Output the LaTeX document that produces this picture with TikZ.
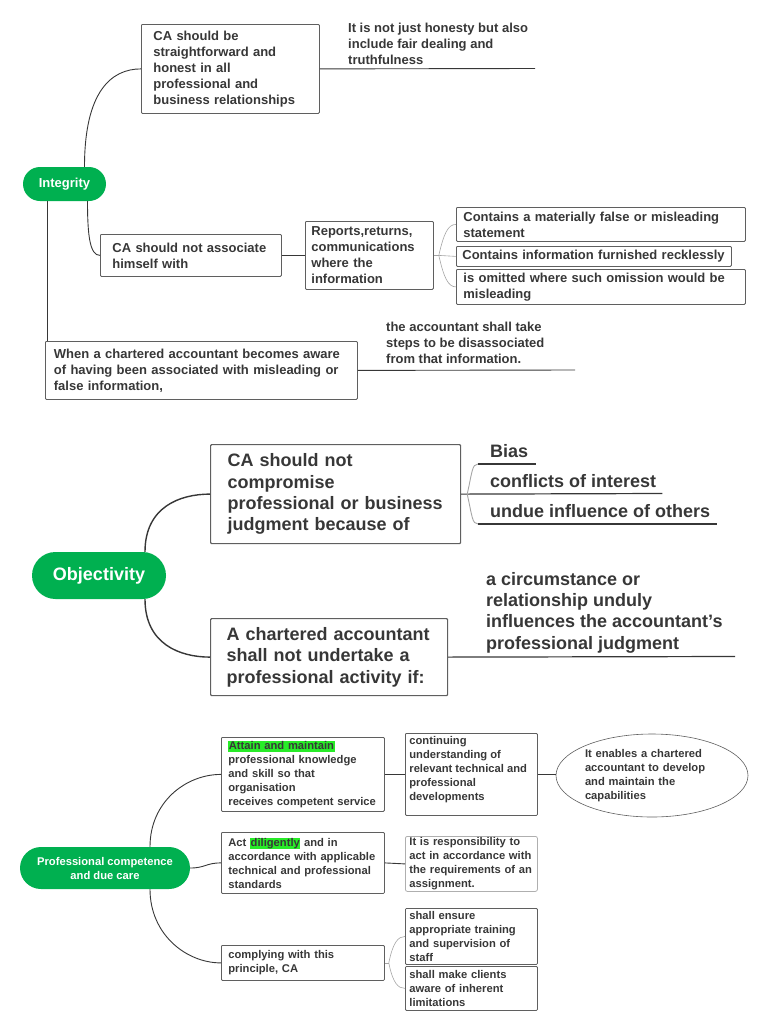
\documentclass[tikz,border=0pt]{standalone}
\usepackage{fontspec}
\setmainfont{Liberation Sans}
\usetikzlibrary{shapes.geometric}

\definecolor{pillgreen}{RGB}{0,176,80}
\definecolor{markgreen}{RGB}{40,235,40}
\definecolor{inkgray}{RGB}{55,55,55}
\definecolor{boxgray}{RGB}{95,95,95}
\definecolor{branchgray}{RGB}{165,165,165}

\newcommand{\intfont}{\fontsize{13}{16}\selectfont\bfseries}
\newcommand{\objfont}{\fontsize{18}{21.3}\selectfont\bfseries}
\newcommand{\pcfont}{\fontsize{11.2}{14}\selectfont\bfseries}
\newcommand{\markgreen}[1]{{\setlength{\fboxsep}{0.5pt}\colorbox{markgreen}{\rule[-2pt]{0pt}{9.5pt}#1}}}

\begin{document}
\begin{tikzpicture}[x=1pt,y=-1pt,
  box/.style={draw=boxgray,line width=0.8pt,rounded corners=1pt,anchor=north west,align=left,inner ysep=0pt,text=inkgray},
  pill/.style={fill=pillgreen,text=white,align=center,inner sep=0pt},
  line/.style={draw=inkgray,line width=0.9pt},
  branch/.style={draw=branchgray,line width=0.6pt},
  note/.style={anchor=north west,align=left,inner sep=0pt,text=inkgray}]
\useasboundingbox (0,0) rectangle (768,1023);

% Integrity
\node[pill,minimum width=83pt,minimum height=34pt,rounded corners=17pt,font=\intfont] (integ) at (64.5,184) {Integrity};
\node[box,text width=154pt,inner xsep=12pt,minimum height=89pt,font=\intfont] (honest) at (141,24) {CA should be\\straightforward and\\honest in all\\professional and\\business relationships};
\node[note,font=\intfont] (fair) at (348,23) {It is not just honesty but also\\include fair dealing and\\truthfulness};
\coordinate (fairend) at (535,68.5);
\node[box,text width=157pt,inner xsep=12pt,minimum height=42pt,font=\intfont] (assoc) at (100,234) {CA should not associate\\himself with};
\node[box,text width=116pt,inner xsep=6pt,minimum height=68pt,font=\intfont] (reports) at (305,221) {Reports,returns,\\communications\\where the\\information};
\node[box,text width=275pt,inner xsep=7pt,minimum height=34pt,font=\intfont] (false) at (456,207) {Contains a materially false or misleading\\statement};
\node[box,text width=263pt,inner xsep=6pt,minimum height=20pt,font=\intfont] (reckless) at (456,246) {Contains information furnished recklessly};
\node[box,text width=275pt,inner xsep=7pt,minimum height=35pt,font=\intfont] (omitted) at (456,269) {is omitted where such omission would be\\misleading};
\node[box,text width=295pt,inner xsep=8.5pt,minimum height=58pt,font=\intfont] (aware) at (45,341) {When a chartered accountant becomes aware\\of having been associated with misleading or\\false information,};
\node[note,font=\intfont] (disassoc) at (386,322) {the accountant shall take\\steps to be disassociated\\from that information.};
\coordinate (disend) at (575,370);

\draw[line] ([xshift=20pt]integ.north) .. controls +(0,-75) and +(-30,0) .. (honest.west);
\draw[line] (honest.east) -- (fairend);
\draw[line] ([xshift=23pt]integ.south) .. controls +(0,35) and +(-10,0) .. (assoc.west);
\draw[line] (assoc.east) -- (reports.west);
\draw[branch] (reports.east) -- ++(5,0) coordinate (rsplit);
\draw[branch] (rsplit) .. controls +(5,-22) and +(-8,0) .. (false.west);
\draw[branch] (rsplit) -- (reckless.west);
\draw[branch] (rsplit) .. controls +(5,22) and +(-8,0) .. (omitted.west);
\draw[line] ([xshift=-17.5pt]integ.south) -- ([xshift=-17.5pt]integ.south |- aware.north);
\draw[line] (aware.east) -- (disend);

% Objectivity
\node[pill,minimum width=134pt,minimum height=47pt,rounded corners=23.5pt,font=\objfont] (objec) at (99,575.5) {Objectivity};
\node[box,line width=1.2pt,text width=216pt,inner xsep=17pt,minimum height=99pt,font=\objfont] (compr) at (210,444) {CA should not\\compromise\\professional or business\\judgment because of};
\node[box,line width=1.2pt,text width=205pt,inner xsep=16pt,minimum height=77pt,font=\objfont] (underta) at (210,618) {A chartered accountant\\shall not undertake a\\professional activity if:};
\node[note,anchor=south west,inner ysep=6pt,text depth=0pt,font=\objfont] (bias) at (490,464) {Bias};
\node[note,anchor=south west,inner ysep=6pt,text depth=0pt,font=\objfont] (conflicts) at (490,493.5) {conflicts of interest};
\node[note,anchor=south west,inner ysep=6pt,text depth=0pt,font=\objfont] (undue) at (490,524) {undue influence of others};
\node[note,font=\objfont] (circum) at (486,572) {a circumstance or\\relationship unduly\\influences the accountant's\\professional judgment};
\coordinate (circend) at (735,656.5);

\draw[line,line width=1.4pt] ([xshift=46pt]objec.north) .. controls +(0,-45) and +(-30,0) .. (compr.west);
\draw[line,line width=1.4pt] ([xshift=46pt]objec.south) .. controls +(0,45) and +(-30,0) .. (underta.west);
\draw[line,line width=1.2pt] (compr.east) -- ++(6,0) coordinate (csplit) -- ([xshift=6pt]conflicts.south east);
\draw[branch,line width=0.9pt] (csplit) .. controls +(5,-22) and +(-6,0) .. ([xshift=-12pt]bias.south west);
\draw[branch,line width=0.9pt] (csplit) .. controls +(5,22) and +(-6,0) .. ([xshift=-12pt]undue.south west);
\draw[line,line width=1.2pt] ([xshift=-12pt]bias.south west) -- ([xshift=8pt]bias.south east);
\draw[line,line width=1.2pt] ([xshift=-12pt]undue.south west) -- ([xshift=7pt]undue.south east);
\draw[line,line width=1.2pt] (underta.east) -- (circend);

% Professional competence and due care
\node[pill,minimum width=170pt,minimum height=42pt,rounded corners=21pt,font=\pcfont] (profc) at (105,868) {Professional competence\\and due care};
\node[box,text width=149pt,inner xsep=7pt,minimum height=74pt,font=\pcfont] (attain) at (221,737) {\markgreen{Attain and maintain}\\professional knowledge\\and skill so that\\organisation\\receives competent service};
\node[box,inner xsep=4pt,minimum height=82pt,font=\pcfont] (contin) at (405,733) {\parbox[c][76pt][t]{124pt}{\raggedright continuing\\understanding of\\relevant technical and\\professional\\developments}};
\node[ellipse,draw=boxgray,line width=0.6pt,minimum width=192pt,minimum height=83pt,inner sep=0pt,text width=134pt,align=left,text=inkgray,font=\pcfont] (enable) at (652,775.5) {It enables a chartered\\accountant to develop\\and maintain the\\capabilities};
\node[box,text width=149pt,inner xsep=7pt,minimum height=61pt,font=\pcfont] (dilig) at (221,832) {Act \markgreen{diligently} and in\\accordance with applicable\\technical and professional\\standards};
\node[box,draw=boxgray!50,rounded corners=2pt,text width=124pt,inner xsep=4pt,minimum height=55pt,font=\pcfont] (respon) at (405,836) {It is responsibility to\\act in accordance with\\the requirements of an\\assignment.};
\node[box,text width=149pt,inner xsep=7pt,minimum height=35pt,font=\pcfont] (comply) at (221,945) {complying with this\\principle, CA};
\node[box,text width=124pt,inner xsep=4pt,minimum height=56pt,font=\pcfont] (training) at (405,908) {shall ensure\\appropriate training\\and supervision of\\staff};
\node[box,text width=124pt,inner xsep=4pt,minimum height=44pt,font=\pcfont] (clients) at (405,966) {shall make clients\\aware of inherent\\limitations};

\draw[line] ([xshift=45pt]profc.north) .. controls +(0,-45) and +(-35,0) .. (attain.west);
\draw[line] (profc.east) .. controls +(15,0) and +(-15,0) .. (dilig.west);
\draw[line] ([xshift=45pt]profc.south) .. controls +(0,45) and +(-35,0) .. (comply.west);
\draw[line] (attain.east) -- (contin.west);
\draw[line] (contin.east) -- (contin.east -| enable.west);
\draw[line] (dilig.east) -- (respon.west);
\draw[branch] (comply.east) -- ++(4,0) coordinate (psplit);
\draw[branch] (psplit) .. controls +(4,-20) and +(-7,0) .. (training.west);
\draw[branch] (psplit) .. controls +(4,20) and +(-7,0) .. (clients.west);
\end{tikzpicture}
\end{document}
